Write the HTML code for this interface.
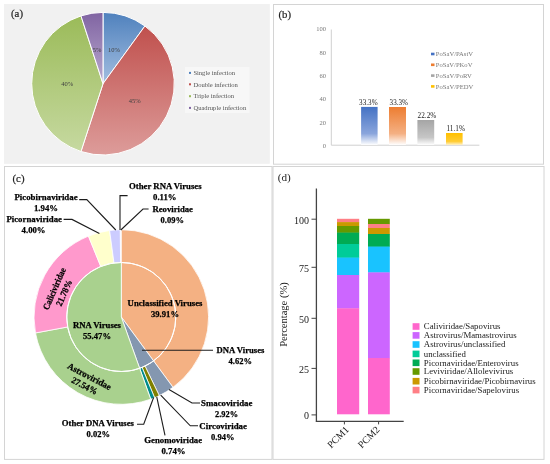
<!DOCTYPE html>
<html><head><meta charset="utf-8"><title>Figure</title>
<style>html,body{margin:0;padding:0;background:#fff;overflow:hidden;}svg{display:block;filter:blur(0.3px);font-family:"Liberation Serif",serif;}</style>
</head><body>
<svg width="550" height="464" viewBox="0 0 550 464">
<defs>
<linearGradient id="gB" x1="0" y1="0" x2="0" y2="1"><stop offset="0" stop-color="#4f81bd"/><stop offset="1" stop-color="#a3bee0"/></linearGradient>
<linearGradient id="gR" x1="0" y1="0" x2="0" y2="1"><stop offset="0" stop-color="#c0504d"/><stop offset="1" stop-color="#dd9c9a"/></linearGradient>
<linearGradient id="gG" x1="0" y1="0" x2="0" y2="1"><stop offset="0" stop-color="#9bbb59"/><stop offset="1" stop-color="#c6d9a0"/></linearGradient>
<linearGradient id="gP" x1="0" y1="0" x2="0" y2="1"><stop offset="0" stop-color="#8064a2"/><stop offset="1" stop-color="#b9a9cf"/></linearGradient>
<linearGradient id="bB" x1="0" y1="0" x2="0" y2="1"><stop offset="0" stop-color="#4472c4"/><stop offset="0.7" stop-color="#8aa5dc"/><stop offset="1" stop-color="#ffffff"/></linearGradient>
<linearGradient id="bO" x1="0" y1="0" x2="0" y2="1"><stop offset="0" stop-color="#ed7d31"/><stop offset="0.7" stop-color="#f4b083"/><stop offset="1" stop-color="#ffffff"/></linearGradient>
<linearGradient id="bGy" x1="0" y1="0" x2="0" y2="1"><stop offset="0" stop-color="#a5a5a5"/><stop offset="0.7" stop-color="#c6c6c6"/><stop offset="1" stop-color="#ffffff"/></linearGradient>
<linearGradient id="bY" x1="0" y1="0" x2="0" y2="1"><stop offset="0" stop-color="#ffc000"/><stop offset="0.7" stop-color="#ffcc33"/><stop offset="1" stop-color="#fff2cc"/></linearGradient>
</defs>
<rect x="0" y="0" width="550" height="464" fill="#ffffff"/>
<rect x="4" y="4" width="265.8" height="159.8" fill="#f1f1f1"/>
<rect x="273.5" y="4.5" width="270" height="159.7" fill="#ffffff" stroke="#d4d4d4" stroke-width="1"/>
<rect x="4.5" y="166.5" width="267.5" height="292.9" fill="#ffffff" stroke="#d4d4d4" stroke-width="1"/>
<rect x="273" y="166.5" width="271" height="292.9" fill="#ffffff" stroke="#d4d4d4" stroke-width="1"/>
<text x="11" y="16.6" font-size="11" text-anchor="start" font-weight="normal" fill="#222" textLength="12" lengthAdjust="spacingAndGlyphs" stroke="#222" stroke-width="0.2">(a)</text>
<text x="278.5" y="17.7" font-size="11" text-anchor="start" font-weight="normal" fill="#222" textLength="12.5" lengthAdjust="spacingAndGlyphs" stroke="#222" stroke-width="0.2">(b)</text>
<text x="12.5" y="181.5" font-size="11" text-anchor="start" font-weight="normal" fill="#222" textLength="12" lengthAdjust="spacingAndGlyphs" stroke="#222" stroke-width="0.2">(c)</text>
<text x="277.8" y="180.6" font-size="11" text-anchor="start" font-weight="normal" fill="#222" textLength="13" lengthAdjust="spacingAndGlyphs">(d)</text>
<path d="M103.00,83.70 L103.00,12.40 A71.3,71.3 0 0 1 144.91,26.02 Z" fill="url(#gB)" stroke="#fff" stroke-width="1" stroke-linejoin="round"/>
<path d="M103.00,83.70 L144.91,26.02 A71.3,71.3 0 0 1 80.97,151.51 Z" fill="url(#gR)" stroke="#fff" stroke-width="1" stroke-linejoin="round"/>
<path d="M103.00,83.70 L80.97,151.51 A71.3,71.3 0 0 1 80.97,15.89 Z" fill="url(#gG)" stroke="#fff" stroke-width="1" stroke-linejoin="round"/>
<path d="M103.00,83.70 L80.97,15.89 A71.3,71.3 0 0 1 103.00,12.40 Z" fill="url(#gP)" stroke="#fff" stroke-width="1" stroke-linejoin="round"/>
<text x="97.1" y="51.5" font-size="6.5" text-anchor="middle" font-weight="normal" fill="#404040">5%</text>
<text x="114" y="51.5" font-size="6.5" text-anchor="middle" font-weight="normal" fill="#404040">10%</text>
<text x="67.2" y="86.1" font-size="6.5" text-anchor="middle" font-weight="normal" fill="#404040">40%</text>
<text x="134.8" y="102.6" font-size="6.5" text-anchor="middle" font-weight="normal" fill="#404040">45%</text>
<rect x="185" y="67" width="64.5" height="46" fill="#f7f7f7"/>
<rect x="189" y="71.9" width="2" height="2" fill="#4f81bd"/>
<text x="193.4" y="75.10000000000001" font-size="6.8" text-anchor="start" font-weight="normal" fill="#555" textLength="41.6" lengthAdjust="spacingAndGlyphs">Single infection</text>
<rect x="189" y="83.3" width="2" height="2" fill="#c0504d"/>
<text x="193.4" y="86.5" font-size="6.8" text-anchor="start" font-weight="normal" fill="#555" textLength="44.5" lengthAdjust="spacingAndGlyphs">Double infection</text>
<rect x="189" y="95.2" width="2" height="2" fill="#9bbb59"/>
<text x="193.4" y="98.4" font-size="6.8" text-anchor="start" font-weight="normal" fill="#555" textLength="40.7" lengthAdjust="spacingAndGlyphs">Triple infection</text>
<rect x="189" y="106.9" width="2" height="2" fill="#8064a2"/>
<text x="193.4" y="110.10000000000001" font-size="6.8" text-anchor="start" font-weight="normal" fill="#555" textLength="52.8" lengthAdjust="spacingAndGlyphs">Quadruple infection</text>
<line x1="331.3" y1="29.5" x2="331.3" y2="145.2" stroke="#d0d0d0" stroke-width="1"/>
<line x1="331.3" y1="145.2" x2="479.4" y2="145.2" stroke="#d0d0d0" stroke-width="1"/>
<text x="326" y="148.0" font-size="6.5" text-anchor="end" font-weight="normal" fill="#777">0</text>
<text x="326" y="124.68" font-size="6.5" text-anchor="end" font-weight="normal" fill="#777">20</text>
<text x="326" y="101.36" font-size="6.5" text-anchor="end" font-weight="normal" fill="#777">40</text>
<text x="326" y="78.04" font-size="6.5" text-anchor="end" font-weight="normal" fill="#777">60</text>
<text x="326" y="54.71999999999999" font-size="6.5" text-anchor="end" font-weight="normal" fill="#777">80</text>
<text x="326" y="31.4" font-size="6.5" text-anchor="end" font-weight="normal" fill="#777">100</text>
<rect x="361.1" y="106.9" width="16.5" height="38.1" fill="url(#bB)"/>
<text x="359.1" y="105.3" font-size="7.4" text-anchor="start" font-weight="normal" fill="#222" textLength="18.5" lengthAdjust="spacingAndGlyphs">33.3%</text>
<rect x="389" y="107" width="17.0" height="38.0" fill="url(#bO)"/>
<text x="389.6" y="105.3" font-size="7.4" text-anchor="start" font-weight="normal" fill="#222" textLength="18.4" lengthAdjust="spacingAndGlyphs">33.3%</text>
<rect x="417.4" y="120" width="16.8" height="25.0" fill="url(#bGy)"/>
<text x="417.6" y="117.8" font-size="7.4" text-anchor="start" font-weight="normal" fill="#222" textLength="18.8" lengthAdjust="spacingAndGlyphs">22.2%</text>
<rect x="446" y="133" width="16.6" height="12.0" fill="url(#bY)"/>
<text x="446.4" y="130.8" font-size="7.4" text-anchor="start" font-weight="normal" fill="#222" textLength="18.6" lengthAdjust="spacingAndGlyphs">11.1%</text>
<rect x="431" y="52.7" width="3.5" height="2.6" fill="#4472c4"/>
<text x="435.8" y="56.400000000000006" font-size="6.6" text-anchor="start" font-weight="normal" fill="#777" textLength="37.2" lengthAdjust="spacingAndGlyphs">PoSaV/PAstV</text>
<rect x="431" y="63.5" width="3.5" height="2.6" fill="#ed7d31"/>
<text x="435.8" y="67.2" font-size="6.6" text-anchor="start" font-weight="normal" fill="#777" textLength="36.6" lengthAdjust="spacingAndGlyphs">PoSaV/PKoV</text>
<rect x="431" y="74.3" width="3.5" height="2.6" fill="#a5a5a5"/>
<text x="435.8" y="78.0" font-size="6.6" text-anchor="start" font-weight="normal" fill="#777" textLength="35.9" lengthAdjust="spacingAndGlyphs">PoSaV/PoRV</text>
<rect x="431" y="85.1" width="3.5" height="2.6" fill="#ffc000"/>
<text x="435.8" y="88.8" font-size="6.6" text-anchor="start" font-weight="normal" fill="#777" textLength="37.5" lengthAdjust="spacingAndGlyphs">PoSaV/PEDV</text>
<path d="M121.30,229.70 A87.3,87.3 0 0 1 172.99,387.35 L153.57,360.92 A54.5,54.5 0 0 0 121.30,262.50 Z" fill="#f4b183" stroke="#fff" stroke-width="0.8" stroke-linejoin="round"/>
<path d="M172.99,387.35 A87.3,87.3 0 0 1 159.29,395.60 L145.02,366.07 A54.5,54.5 0 0 0 153.57,360.92 Z" fill="#8497b0" stroke="#fff" stroke-width="0.8" stroke-linejoin="round"/>
<path d="M159.29,395.60 A87.3,87.3 0 0 1 154.58,397.71 L142.08,367.38 A54.5,54.5 0 0 0 145.02,366.07 Z" fill="#808000" stroke="#fff" stroke-width="0.8" stroke-linejoin="round"/>
<path d="M154.58,397.71 A87.3,87.3 0 0 1 150.80,399.17 L139.71,368.29 A54.5,54.5 0 0 0 142.08,367.38 Z" fill="#008c8c" stroke="#fff" stroke-width="0.8" stroke-linejoin="round"/>
<path d="M150.69,399.20 A87.3,87.3 0 0 1 35.47,332.94 L67.72,326.95 A54.5,54.5 0 0 0 139.65,368.32 Z" fill="#a9d18e" stroke="#fff" stroke-width="0.8" stroke-linejoin="round"/>
<path d="M35.47,332.94 A87.3,87.3 0 0 1 88.45,236.12 L100.79,266.51 A54.5,54.5 0 0 0 67.72,326.95 Z" fill="#ff99cc" stroke="#fff" stroke-width="0.8" stroke-linejoin="round"/>
<path d="M88.45,236.12 A87.3,87.3 0 0 1 109.60,230.49 L113.99,262.99 A54.5,54.5 0 0 0 100.79,266.51 Z" fill="#ffffcc" stroke="#fff" stroke-width="0.8" stroke-linejoin="round"/>
<path d="M109.60,230.49 A87.3,87.3 0 0 1 120.20,229.71 L120.62,262.50 A54.5,54.5 0 0 0 113.99,262.99 Z" fill="#ccccff" stroke="#fff" stroke-width="0.8" stroke-linejoin="round"/>
<path d="M121.30,317.00 L121.30,262.50 A54.5,54.5 0 0 1 153.57,360.92 Z" fill="#f4b183" stroke="#fff" stroke-width="0.8" stroke-linejoin="round"/>
<path d="M121.30,317.00 L153.57,360.92 A54.5,54.5 0 0 1 139.65,368.32 Z" fill="#8497b0" stroke="#fff" stroke-width="0.8" stroke-linejoin="round"/>
<path d="M121.30,317.00 L139.65,368.32 A54.5,54.5 0 1 1 121.33,262.50 Z" fill="#a9d18e" stroke="#fff" stroke-width="0.8" stroke-linejoin="round"/>
<circle cx="121.3" cy="317.0" r="54.5" fill="none" stroke="#fff" stroke-width="1"/>
<text x="14.4" y="199.6" font-size="9.2" text-anchor="start" font-weight="bold" fill="#000" textLength="63.2" lengthAdjust="spacingAndGlyphs" stroke="#000" stroke-width="0.25">Picobirnaviridae</text>
<text x="34" y="210.7" font-size="9.2" text-anchor="start" font-weight="bold" fill="#000" textLength="24" lengthAdjust="spacingAndGlyphs" stroke="#000" stroke-width="0.25">1.94%</text>
<text x="6.4" y="222.4" font-size="9.2" text-anchor="start" font-weight="bold" fill="#000" textLength="55.6" lengthAdjust="spacingAndGlyphs" stroke="#000" stroke-width="0.25">Picornaviridae</text>
<text x="21.6" y="233.1" font-size="9.2" text-anchor="start" font-weight="bold" fill="#000" textLength="24.0" lengthAdjust="spacingAndGlyphs" stroke="#000" stroke-width="0.25">4.00%</text>
<text x="129" y="188.6" font-size="9.2" text-anchor="start" font-weight="bold" fill="#000" textLength="72.6" lengthAdjust="spacingAndGlyphs" stroke="#000" stroke-width="0.25">Other RNA Viruses</text>
<text x="153" y="199.7" font-size="9.2" text-anchor="start" font-weight="bold" fill="#000" textLength="23.6" lengthAdjust="spacingAndGlyphs" stroke="#000" stroke-width="0.25">0.11%</text>
<text x="152.4" y="211.6" font-size="9.2" text-anchor="start" font-weight="bold" fill="#000" textLength="40.6" lengthAdjust="spacingAndGlyphs" stroke="#000" stroke-width="0.25">Reoviridae</text>
<text x="160.6" y="222.7" font-size="9.2" text-anchor="start" font-weight="bold" fill="#000" textLength="23.4" lengthAdjust="spacingAndGlyphs" stroke="#000" stroke-width="0.25">0.09%</text>
<text x="127.6" y="305.6" font-size="9.2" text-anchor="start" font-weight="bold" fill="#000" textLength="74.8" lengthAdjust="spacingAndGlyphs" stroke="#000" stroke-width="0.25">Unclassified Viruses</text>
<text x="151" y="317.1" font-size="9.2" text-anchor="start" font-weight="bold" fill="#000" textLength="28" lengthAdjust="spacingAndGlyphs" stroke="#000" stroke-width="0.25">39.91%</text>
<text x="73" y="328" font-size="9.2" text-anchor="start" font-weight="bold" fill="#000" textLength="48" lengthAdjust="spacingAndGlyphs" stroke="#000" stroke-width="0.25">RNA Viruses</text>
<text x="83" y="338.7" font-size="9.2" text-anchor="start" font-weight="bold" fill="#000" textLength="28" lengthAdjust="spacingAndGlyphs" stroke="#000" stroke-width="0.25">55.47%</text>
<text x="216.6" y="353" font-size="9.2" text-anchor="start" font-weight="bold" fill="#000" textLength="47.8" lengthAdjust="spacingAndGlyphs" stroke="#000" stroke-width="0.25">DNA Viruses</text>
<text x="228.6" y="363.7" font-size="9.2" text-anchor="start" font-weight="bold" fill="#000" textLength="23.4" lengthAdjust="spacingAndGlyphs" stroke="#000" stroke-width="0.25">4.62%</text>
<text x="201" y="406" font-size="9.2" text-anchor="start" font-weight="bold" fill="#000" textLength="51.4" lengthAdjust="spacingAndGlyphs" stroke="#000" stroke-width="0.25">Smacoviridae</text>
<text x="215" y="417.1" font-size="9.2" text-anchor="start" font-weight="bold" fill="#000" textLength="23" lengthAdjust="spacingAndGlyphs" stroke="#000" stroke-width="0.25">2.92%</text>
<text x="199.3" y="428.9" font-size="9.2" text-anchor="start" font-weight="bold" fill="#000" textLength="47.7" lengthAdjust="spacingAndGlyphs" stroke="#000" stroke-width="0.25">Circoviridae</text>
<text x="211.1" y="439.5" font-size="9.2" text-anchor="start" font-weight="bold" fill="#000" textLength="23.4" lengthAdjust="spacingAndGlyphs" stroke="#000" stroke-width="0.25">0.94%</text>
<text x="144.2" y="442.8" font-size="9.2" text-anchor="start" font-weight="bold" fill="#000" textLength="57.9" lengthAdjust="spacingAndGlyphs" stroke="#000" stroke-width="0.25">Genomoviridae</text>
<text x="161.4" y="453.7" font-size="9.2" text-anchor="start" font-weight="bold" fill="#000" textLength="24.2" lengthAdjust="spacingAndGlyphs" stroke="#000" stroke-width="0.25">0.74%</text>
<text x="61.8" y="425.8" font-size="9.2" text-anchor="start" font-weight="bold" fill="#000" textLength="72.2" lengthAdjust="spacingAndGlyphs" stroke="#000" stroke-width="0.25">Other DNA Viruses</text>
<text x="86.5" y="436.7" font-size="9.2" text-anchor="start" font-weight="bold" fill="#000" textLength="23.5" lengthAdjust="spacingAndGlyphs" stroke="#000" stroke-width="0.25">0.02%</text>
<g transform="translate(58.6,290.6) rotate(-66.5)">
<text x="0" y="-1.6" font-size="9.2" text-anchor="middle" font-weight="bold" fill="#000" textLength="45" lengthAdjust="spacingAndGlyphs" stroke="#000" stroke-width="0.25">Caliciviridae</text>
<text x="0" y="9.0" font-size="9.2" text-anchor="middle" font-weight="bold" fill="#000" textLength="27.5" lengthAdjust="spacingAndGlyphs" stroke="#000" stroke-width="0.25">21.78%</text>
</g>
<g transform="translate(87.3,380.6) rotate(27.5)">
<text x="0" y="-1.6" font-size="9.2" text-anchor="middle" font-weight="bold" fill="#000" textLength="48" lengthAdjust="spacingAndGlyphs" stroke="#000" stroke-width="0.25">Astroviridae</text>
<text x="0" y="9.0" font-size="9.2" text-anchor="middle" font-weight="bold" fill="#000" textLength="28" lengthAdjust="spacingAndGlyphs" stroke="#000" stroke-width="0.25">27.54%</text>
</g>
<polyline points="79.2,199.6 86.8,199.6 115.8,230" fill="none" stroke="#1c1c1c" stroke-width="1.1"/>
<polyline points="63.6,219.4 72,219.4 99.4,233.4" fill="none" stroke="#1c1c1c" stroke-width="1.1"/>
<polyline points="127.6,195.6 120,195.6 120,230" fill="none" stroke="#1c1c1c" stroke-width="1.1"/>
<polyline points="148.6,209 143,209 120.8,230" fill="none" stroke="#1c1c1c" stroke-width="1.1"/>
<polyline points="142,350.3 213,350.3" fill="none" stroke="#1c1c1c" stroke-width="1.1"/>
<polyline points="169,389.6 192,403 200,403" fill="none" stroke="#1c1c1c" stroke-width="1.1"/>
<polyline points="160.7,395.1 190.3,425.8 198,425.8" fill="none" stroke="#1c1c1c" stroke-width="1.1"/>
<polyline points="156.7,396.7 165,435.3" fill="none" stroke="#1c1c1c" stroke-width="1.1"/>
<polyline points="153.6,397.5 143.7,424.2 137,424.2" fill="none" stroke="#1c1c1c" stroke-width="1.1"/>
<line x1="316.4" y1="188.5" x2="316.4" y2="421.9" stroke="#444444" stroke-width="1.3"/>
<line x1="315.9" y1="421.4" x2="403.7" y2="421.4" stroke="#444444" stroke-width="1.3"/>
<line x1="311.5" y1="414.9" x2="316.4" y2="414.9" stroke="#444444" stroke-width="1"/>
<text x="309.0" y="419.2" font-size="10" text-anchor="end" font-weight="normal" fill="#1a1a1a">0</text>
<line x1="311.5" y1="368.4" x2="316.4" y2="368.4" stroke="#444444" stroke-width="1"/>
<text x="309.0" y="372.7" font-size="10" text-anchor="end" font-weight="normal" fill="#1a1a1a">25</text>
<line x1="311.5" y1="318.3" x2="316.4" y2="318.3" stroke="#444444" stroke-width="1"/>
<text x="309.0" y="322.6" font-size="10" text-anchor="end" font-weight="normal" fill="#1a1a1a">50</text>
<line x1="311.5" y1="267.3" x2="316.4" y2="267.3" stroke="#444444" stroke-width="1"/>
<text x="309.0" y="271.6" font-size="10" text-anchor="end" font-weight="normal" fill="#1a1a1a">75</text>
<line x1="311.5" y1="219.2" x2="316.4" y2="219.2" stroke="#444444" stroke-width="1"/>
<text x="309.0" y="223.5" font-size="10" text-anchor="end" font-weight="normal" fill="#1a1a1a">100</text>
<line x1="344.4" y1="421.4" x2="344.4" y2="424.4" stroke="#444444" stroke-width="1"/>
<line x1="378.6" y1="421.4" x2="378.6" y2="424.4" stroke="#444444" stroke-width="1"/>
<rect x="337" y="218.8" width="22.2" height="3.6" fill="#ff7f86"/>
<rect x="337" y="222.1" width="22.2" height="4.2" fill="#cc9900"/>
<rect x="337" y="226" width="22.2" height="6.9" fill="#669900"/>
<rect x="337" y="232.6" width="22.2" height="11.7" fill="#00ab54"/>
<rect x="337" y="244" width="22.2" height="13.9" fill="#00cc99"/>
<rect x="337" y="257.6" width="22.2" height="17.7" fill="#19c3ff"/>
<rect x="337" y="275" width="22.2" height="33.6" fill="#cc66ff"/>
<rect x="337" y="308.3" width="22.2" height="106.0" fill="#ff66cc"/>
<rect x="368" y="218.8" width="21.8" height="5.5" fill="#669900"/>
<rect x="368" y="224" width="21.8" height="4.3" fill="#ff7f86"/>
<rect x="368" y="228" width="21.8" height="6.3" fill="#cc9900"/>
<rect x="368" y="234" width="21.8" height="12.9" fill="#00ab54"/>
<rect x="368" y="246.6" width="21.8" height="26.1" fill="#19c3ff"/>
<rect x="368" y="272.4" width="21.8" height="85.9" fill="#cc66ff"/>
<rect x="368" y="358" width="21.8" height="56.3" fill="#ff66cc"/>
<text transform="translate(287.4,314.6) rotate(-90)" font-size="10.2" text-anchor="middle" fill="#1a1a1a" textLength="64.5" lengthAdjust="spacingAndGlyphs">Percentage (%)</text>
<text transform="translate(349.6,430.3) rotate(-45)" font-size="10" text-anchor="end" fill="#1a1a1a">PCM1</text>
<text transform="translate(380.2,430.3) rotate(-45)" font-size="10" text-anchor="end" fill="#1a1a1a">PCM2</text>
<rect x="412.6" y="323.2" width="6.9" height="6.6" fill="#ff66cc"/>
<text x="423.8" y="329.4" font-size="8.8" text-anchor="start" font-weight="normal" fill="#1a1a1a">Caliviridae/Sapovirus</text>
<rect x="412.6" y="332.1" width="6.9" height="6.6" fill="#cc66ff"/>
<text x="423.8" y="338.3" font-size="8.8" text-anchor="start" font-weight="normal" fill="#1a1a1a">Astrovirus/Mamastrovirus</text>
<rect x="412.6" y="341.2" width="6.9" height="6.6" fill="#19c3ff"/>
<text x="423.8" y="347.4" font-size="8.8" text-anchor="start" font-weight="normal" fill="#1a1a1a">Astrovirus/unclassified</text>
<rect x="412.6" y="350.6" width="6.9" height="6.6" fill="#00cc99"/>
<text x="423.8" y="356.8" font-size="8.8" text-anchor="start" font-weight="normal" fill="#1a1a1a">unclassified</text>
<rect x="412.6" y="359.5" width="6.9" height="6.6" fill="#00ab54"/>
<text x="423.8" y="365.7" font-size="8.8" text-anchor="start" font-weight="normal" fill="#1a1a1a">Picornaviridae/Enterovirus</text>
<rect x="412.6" y="368.2" width="6.9" height="6.6" fill="#669900"/>
<text x="423.8" y="374.4" font-size="8.8" text-anchor="start" font-weight="normal" fill="#1a1a1a">Leviviridae/Allolevivirus</text>
<rect x="412.6" y="377.9" width="6.9" height="6.6" fill="#cc9900"/>
<text x="423.8" y="384.1" font-size="8.8" text-anchor="start" font-weight="normal" fill="#1a1a1a">Picobirnaviridae/Picobirnavirus</text>
<rect x="412.6" y="386.8" width="6.9" height="6.6" fill="#ff7f86"/>
<text x="423.8" y="393.0" font-size="8.8" text-anchor="start" font-weight="normal" fill="#1a1a1a">Picornaviridae/Sapelovirus</text>
</svg></body></html>
